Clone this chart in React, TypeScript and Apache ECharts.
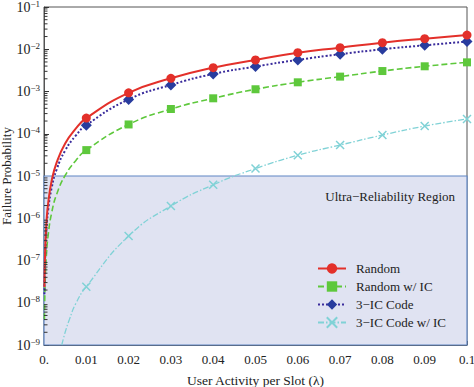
import React, { useEffect, useRef } from "react";
import * as echarts from "echarts";

const lambda = [0.01, 0.02, 0.03, 0.04, 0.05, 0.06, 0.07, 0.08, 0.09, 0.1];
const randomVals = [2.35e-4, 9.3e-4, 2.05e-3, 3.66e-3, 5.57e-3, 8.3e-3, 1.09e-2, 1.43e-2, 1.78e-2, 2.17e-2];
const randomICVals = [4.1e-5, 1.66e-4, 3.85e-4, 6.9e-4, 1.13e-3, 1.65e-3, 2.25e-3, 3.05e-3, 3.95e-3, 4.9e-3];
const ic3Vals = [1.6e-4, 6.5e-4, 1.43e-3, 2.6e-3, 3.9e-3, 5.6e-3, 7.6e-3, 1.0e-2, 1.24e-2, 1.52e-2];
const ic3ICVals = [2.4e-8, 3.8e-7, 1.95e-6, 6.2e-6, 1.5e-5, 3.1e-5, 5.4e-5, 9.3e-5, 1.52e-4, 2.24e-4];

// curve points below the first marker (no markers drawn)
const lowX = [0.0001, 0.0003, 0.0006, 0.001, 0.0018, 0.003, 0.005, 0.0075];
const randomLow = [2.35e-8, 2.1e-7, 8.5e-7, 2.35e-6, 7.6e-6, 2.1e-5, 5.9e-5, 1.32e-4];
const randomICLow = [4.1e-9, 3.7e-8, 1.5e-7, 4.1e-7, 1.33e-6, 3.7e-6, 1.03e-5, 2.3e-5];
const ic3Low = [1.6e-8, 1.44e-7, 5.8e-7, 1.6e-6, 5.2e-6, 1.44e-5, 4.0e-5, 9.0e-5];
const ic3ICLowX = [0.0042, 0.005, 0.006, 0.0075];
const ic3ICLow = [1.0e-9, 2.0e-9, 4.0e-9, 9.5e-9];

const yMinorTicks: number[] = [];
for (let e = -9; e <= -2; e++) {
  for (let m = 2; m <= 9; m++) yMinorTicks.push(m * Math.pow(10, e));
}

const seriesNames = ["Random", "Random w/ IC", "3\u2212IC Code", "3\u2212IC Code w/ IC"];

const FONT = "Liberation Serif";

function build(lowXs: number[], lowYs: number[], xs: number[], ys: number[]) {
  const out: any[] = [];
  lowXs.forEach((x, i) => out.push({ value: [x, lowYs[i]], symbol: "none" }));
  xs.forEach((x, i) => out.push({ value: [x, ys[i]] }));
  return out;
}

export default function App() {
  const ref = useRef<HTMLDivElement>(null);
  useEffect(() => {
    if (!ref.current) return;
    const chart = echarts.init(ref.current, undefined, { renderer: "svg" });
    const supFmt = (v: number) => {
      const e = Math.round(Math.log10(v));
      return "{b|10}{s|" + (e < 0 ? "\u2212" : "") + Math.abs(e) + "}";
    };
    chart.setOption({
      animation: false,
      grid: {
        left: 44,
        right: 7,
        top: 7,
        bottom: 42,
        show: true,
        borderColor: "#555",
        borderWidth: 1,
        outerBoundsMode: "none",
        containLabel: false,
      },
      legend: {
        data: seriesNames,
        orient: "vertical",
        left: 317,
        top: 262,
        padding: 0,
        itemWidth: 28,
        itemHeight: 13,
        itemGap: 5,
        textStyle: { fontFamily: FONT, fontSize: 13, color: "#222", padding: [0, 0, 0, 5] },
      },
      xAxis: {
        type: "value",
        min: 0,
        max: 0.1,
        interval: 0.01,
        name: "User Activity per Slot (\u03bb)",
        nameLocation: "middle",
        nameGap: 28,
        nameMoveOverlap: false,
        nameTextStyle: { fontFamily: FONT, fontSize: 13.5, color: "#222" },
        axisLine: { lineStyle: { color: "#555" } },
        axisTick: { inside: true, length: 4, lineStyle: { color: "#444" } },
        splitLine: { show: false },
        axisLabel: {
          fontFamily: FONT,
          fontSize: 13,
          color: "#222",
          margin: 8,
          formatter: (v: number) => (v === 0 ? "0." : v >= 0.0999 ? "0.1" : v.toFixed(2)),
        },
      },
      yAxis: {
        type: "log",
        logBase: 10,
        min: 1e-9,
        max: 1e-1,
        name: "Failure Probability",
        nameLocation: "middle",
        nameGap: 31,
        nameMoveOverlap: false,
        nameTextStyle: { fontFamily: FONT, fontSize: 13, color: "#222" },
        axisLine: { lineStyle: { color: "#555" } },
        axisTick: { inside: true, length: 5, lineStyle: { color: "#333" } },
        splitLine: { show: false },
        axisLabel: {
          fontFamily: FONT,
          color: "#222",
          margin: 4,
          formatter: supFmt,
          rich: {
            b: { fontFamily: FONT, fontSize: 14, color: "#222" },
            s: { fontFamily: FONT, fontSize: 9, color: "#222", verticalAlign: "bottom", padding: [0, 0, 7, 0] },
          },
        },
      },
      graphic: [
        {
          type: "text",
          right: 474 - 455,
          top: 190,
          style: { text: "Ultra\u2212Reliability Region", fontFamily: FONT, fontSize: 13, fill: "#222" },
          z: 10,
        },
      ],
      series: [
        {
          type: "line",
          name: "region",
          data: [],
          silent: true,
          z: 1,
          markArea: {
            silent: true,
            itemStyle: { color: "#e0e3f2", borderColor: "#5f86c4", borderWidth: 1.2 },
            data: [[{ xAxis: 0, yAxis: 1e-9 }, { xAxis: 0.1, yAxis: 1e-5 }]],
          },
        },
        {
          type: "custom",
          name: "minorTicks",
          silent: true,
          clip: false,
          z: 8,
          data: yMinorTicks.map((v) => [0.0001, v]),
          renderItem: (params: any, api: any) => {
            const p = api.coord([0, api.value(1)]);
            return {
              type: "line",
              shape: { x1: p[0], y1: p[1], x2: p[0] + 3.5, y2: p[1] },
              style: { stroke: "#333", lineWidth: 1 },
            };
          },
        },
        {
          type: "line",
          name: seriesNames[3],
          z: 3,
          smooth: 0.5,
          symbol: "path://M0,0L10,10M10,0L0,10",
          symbolSize: 8,
          data: build(ic3ICLowX, ic3ICLow, lambda, ic3ICVals),
          lineStyle: { color: "#80d2d6", width: 1.3, type: [6, 2, 1.5, 2] },
          itemStyle: { color: "#80d2d6", borderColor: "#80d2d6", borderWidth: 1.5 },
        },
        {
          type: "line",
          name: seriesNames[1],
          z: 4,
          smooth: 0.5,
          symbol: "rect",
          symbolSize: 8,
          data: build(lowX, randomICLow, lambda, randomICVals),
          lineStyle: { color: "#5ec83c", width: 1.6, type: [6, 3] },
          itemStyle: { color: "#5ec83c" },
        },
        {
          type: "line",
          name: seriesNames[2],
          z: 5,
          smooth: 0.5,
          symbol: "diamond",
          symbolSize: 11,
          data: build(lowX, ic3Low, lambda, ic3Vals),
          lineStyle: { color: "#3a2c9c", width: 2, type: [2, 2] },
          itemStyle: { color: "#283c9e" },
        },
        {
          type: "line",
          name: seriesNames[0],
          z: 6,
          smooth: 0.5,
          symbol: "circle",
          symbolSize: 9,
          data: build(lowX, randomLow, lambda, randomVals),
          lineStyle: { color: "#e3302a", width: 2 },
          itemStyle: { color: "#e3302a" },
        },
      ],
    });
    return () => chart.dispose();
  }, []);
  return <div ref={ref} style={{ width: 474, height: 387, position: "absolute", left: 0, top: 0 }} />;
}
